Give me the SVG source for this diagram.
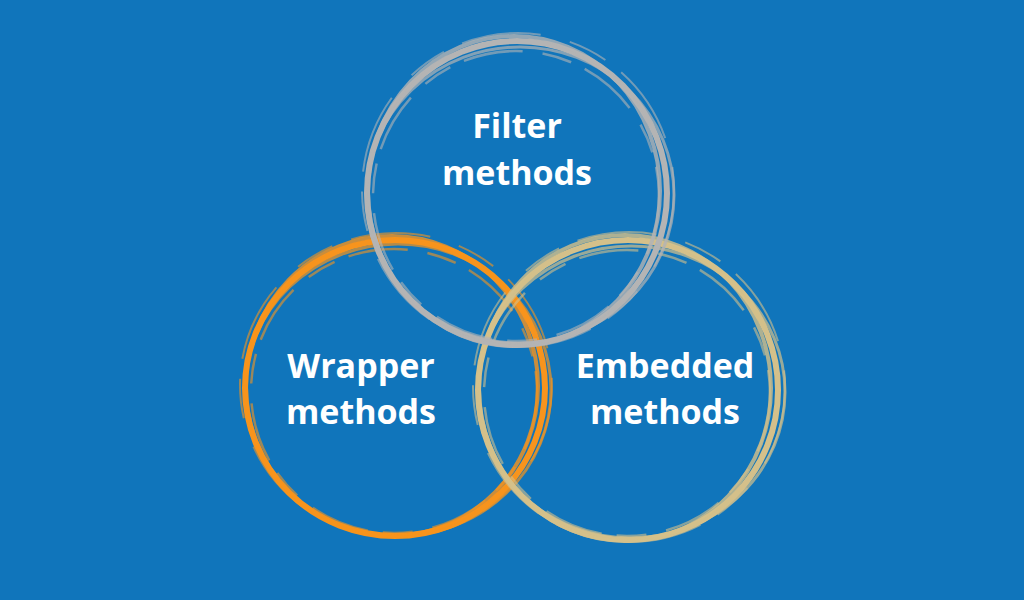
<svg xmlns="http://www.w3.org/2000/svg" width="1024" height="600" viewBox="0 0 1024 600">
<style>
.t{font-family:"Open Sans","Liberation Sans",sans-serif;font-weight:bold;font-size:34px;fill:#fff;text-anchor:middle}
.r{fill:none}
</style>
<rect width="1024" height="600" fill="#1075BB"/>
<g id="wrapper" stroke="#F7941D" class="r">
<ellipse cx="395" cy="388" rx="150" ry="148" stroke-width="6"/>
<ellipse cx="392" cy="386" rx="146" ry="150" stroke-width="4" opacity="0.8"/>
<ellipse cx="398" cy="390" rx="153" ry="146" stroke-width="3" opacity="0.7"/>
<ellipse cx="394" cy="391" rx="143" ry="142" stroke-width="2.5" opacity="0.6" stroke-dasharray="60 20 30 15"/>
<ellipse cx="396" cy="385" rx="156" ry="152" stroke-width="2" opacity="0.6" stroke-dasharray="80 30 40 20"/>
</g>
<g id="embedded" stroke="#D4C08A" class="r">
<ellipse cx="628" cy="390" rx="150" ry="150" stroke-width="6"/>
<ellipse cx="625" cy="388" rx="146" ry="153" stroke-width="4" opacity="0.8"/>
<ellipse cx="631" cy="392" rx="154" ry="146" stroke-width="3" opacity="0.7"/>
<ellipse cx="627" cy="393" rx="143" ry="143" stroke-width="2.5" opacity="0.6" stroke-dasharray="60 20 30 15"/>
<ellipse cx="629" cy="387" rx="156" ry="155" stroke-width="2" opacity="0.6" stroke-dasharray="80 30 40 20"/>
</g>
<g id="filter" stroke="#B4B4B4" class="r">
<ellipse cx="517" cy="193" rx="150" ry="152" stroke-width="6"/>
<ellipse cx="514" cy="191" rx="146" ry="155" stroke-width="4" opacity="0.8"/>
<ellipse cx="520" cy="195" rx="154" ry="148" stroke-width="3" opacity="0.7"/>
<ellipse cx="516" cy="196" rx="143" ry="145" stroke-width="2.5" opacity="0.6" stroke-dasharray="60 20 30 15"/>
<ellipse cx="518" cy="190" rx="156" ry="157" stroke-width="2" opacity="0.6" stroke-dasharray="80 30 40 20"/>
</g>
<g id="labels">
<text class="t" x="517" y="138">Filter</text>
<text class="t" x="517" y="185">methods</text>
<text class="t" x="361" y="378">Wrapper</text>
<text class="t" x="361" y="424">methods</text>
<text class="t" x="665" y="378">Embedded</text>
<text class="t" x="665" y="424">methods</text>
</g>
</svg>
